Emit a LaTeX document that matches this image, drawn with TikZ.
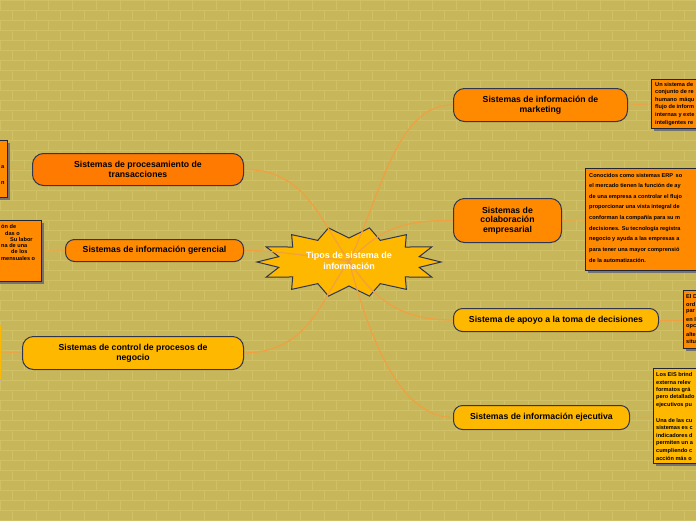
\documentclass[tikz,border=0pt]{standalone}
\usepackage{fontspec}
\setmainfont{Liberation Sans}
\pgfdeclarelayer{bg}\pgfdeclarelayer{cn}
\pgfsetlayers{bg,cn,main}
\definecolor{bgc}{HTML}{C8B75A}
\definecolor{brick}{HTML}{D0C066}
\definecolor{org}{HTML}{FF8A00}
\definecolor{dorg}{HTML}{FF7A00}
\definecolor{yel}{HTML}{FFB800}
\definecolor{edge}{HTML}{2E3550}
\definecolor{lnk}{HTML}{F0A040}
\tikzset{x=1pt,y=-1pt,
 topic/.style={draw=edge,line width=1pt,rounded corners=11pt,font=\bfseries\fontsize{8.7}{9.7}\selectfont,align=center,inner sep=2pt,anchor=north west},
 conn/.style={draw=lnk,line width=1.2pt},
 desc/.style={draw=edge!70!black,line width=0.8pt,anchor=north west},
 dt/.style={font=\bfseries\fontsize{5.6}{7}\selectfont,anchor=west,inner sep=0pt}}
\begin{document}
\begin{tikzpicture}
\useasboundingbox (0,0) rectangle (696,520);
\begin{pgfonlayer}{bg}
\fill[bgc] (0,0) rectangle (696,520);
\foreach \r in {0,...,52}{\draw[brick,line width=0.5pt] (0,\r*10) -- (696,\r*10);
 \pgfmathsetmacro\o{mod(\r,2)*12}
 \foreach \c in {0,...,29}{\draw[brick,line width=0.5pt] (\o+\c*24,\r*10)--(\o+\c*24,\r*10+10);}}
\end{pgfonlayer}
% center star
\node[font=\bfseries\fontsize{9}{10.5}\selectfont,align=center,text=white] (c) at (349,261) {Tipos de sistema de\\información};
\begin{pgfonlayer}{cn}
\fill[yel,draw=edge,line width=1pt] plot[samples=29,domain=0:28,variable=\k] ({349+(mod(\k,2)==0?92:72)*cos(\k*360/28)},{262+(mod(\k,2)==0?35:24)*sin(\k*360/28)}) -- cycle;
\end{pgfonlayer}
% topics
\node[topic,fill=org,minimum width=174pt,minimum height=33pt] (mk) at (453,88) {Sistemas de información de\\marketing};
\node[topic,fill=org,minimum width=108pt,minimum height=44pt] (co) at (453,198) {Sistemas de\\colaboración\\empresarial};
\node[topic,fill=yel,minimum width=205pt,minimum height=23pt,rounded corners=9pt] (ad) at (453,308) {Sistema de apoyo a la toma de decisiones};
\node[topic,fill=yel,minimum width=176pt,minimum height=24pt,rounded corners=9pt] (ei) at (453,405) {Sistemas de información ejecutiva};
\node[topic,fill=dorg,minimum width=211pt,minimum height=32pt] (tr) at (32,153) {Sistemas de procesamiento de\\transacciones};
\node[topic,fill=org,minimum width=178pt,minimum height=22pt,rounded corners=9pt] (ge) at (65,239) {Sistemas de información gerencial};
\node[topic,fill=yel,minimum width=221pt,minimum height=33pt] (cp) at (22,336) {Sistemas de control de procesos de\\negocio};
% connectors
\begin{pgfonlayer}{cn}
\draw[conn] (c.center) .. controls (380,200) and (395,104) .. (mk.west);
\draw[conn] (c.center) .. controls (380,230) and (400,220) .. (co.west);
\draw[conn] (c.center) .. controls (375,300) and (400,320) .. (ad.west);
\draw[conn] (c.center) .. controls (370,340) and (400,417) .. (ei.west);
\draw[conn] (c.center) .. controls (320,220) and (305,169) .. (tr.east);
\draw[conn] (c.center) .. controls (300,255) and (270,250) .. (ge.east);
\draw[conn] (c.center) .. controls (320,300) and (310,352) .. (cp.east);
\end{pgfonlayer}
% description boxes
\draw[conn,line width=0.6pt] (mk.east) -- (651,104);
\draw[conn,line width=0.6pt] (co.east) -- (585,220);
\draw[conn,line width=0.6pt] (ad.east) -- (683,320);
\draw[conn,line width=0.6pt] (ei.east) -- (653,417);
\draw[conn,line width=0.6pt] (tr.west) -- (7,169);
\draw[conn,line width=0.6pt] (ge.west) -- (41,250);
\draw[conn,line width=0.6pt] (cp.west) -- (1,352);
\fill[black!55] (654,82) rectangle (700,131);
\node[desc,fill=org,minimum width=60pt,minimum height=49pt] (b1) at (651,79) {};
\fill[black!55] (588,171) rectangle (700,273);
\node[desc,fill=org,minimum width=120pt,minimum height=102pt] (b2) at (585,168) {};
\fill[black!55] (686,293) rectangle (700,351);
\node[desc,fill=org,minimum width=30pt,minimum height=58pt] (b3) at (683,290) {};
\fill[black!55] (656,371) rectangle (700,466);
\node[desc,fill=yel,minimum width=60pt,minimum height=95pt] (b4) at (653,368) {};
\fill[black!55] (-5,143) rectangle (10,200);
\node[desc,fill=org,minimum width=20pt,minimum height=57pt] (b5) at (-13,140) {};
\fill[black!55] (-5,223) rectangle (44,284);
\node[desc,fill=org,minimum width=60pt,minimum height=61pt] (b6) at (-19,220) {};
\node[desc,fill=yel,draw=gray!60,minimum width=20pt,minimum height=55pt] (b7) at (-19,325) {};
% texts
\foreach \t [count=\i] in {Un sistema de,conjunto de re,humano\, máqu,flujo de inform,internas y exte,inteligentes re}
 \node[dt] at (655,77+\i*7.6) {\t};
\foreach \t [count=\i] in {Conocidos como sistemas ERP\, so,el mercado tienen la función de ay,de una empresa a controlar el flujo,proporcionar una vista integral de,conforman la compañía para su m,decisiones. Su tecnología registra,negocio y ayuda a las empresas a,para tener una mayor comprensió,de la automatización.}
 \node[dt] at (589,165+\i*10.6) {\t};
\foreach \t [count=\i] in {El D,ord,par,en l,opc,alte,situ}
 \node[dt] at (686,289+\i*7.5) {\t};
\foreach \t [count=\i] in {Los EIS brind,externa relev,formatos grá,pero detallado,ejecutivos pu,,Una de las cu,sistemas es c,indicadores d,permiten un a,cumpliendo c,acción más o}
 \node[dt] at (656,367+\i*7.6) {\t};
\node[dt] at (1,167) {a};
\node[dt] at (1,183) {n};
\node[dt] at (1,226) {ón de};
\node[dt] at (5,233) {das o};
\node[dt] at (10,239) {Su labor};
\node[dt] at (1,245) {na de una};
\node[dt] at (11,251) {de los};
\node[dt] at (1,258) {mensuales o};
\end{tikzpicture}
\end{document}
